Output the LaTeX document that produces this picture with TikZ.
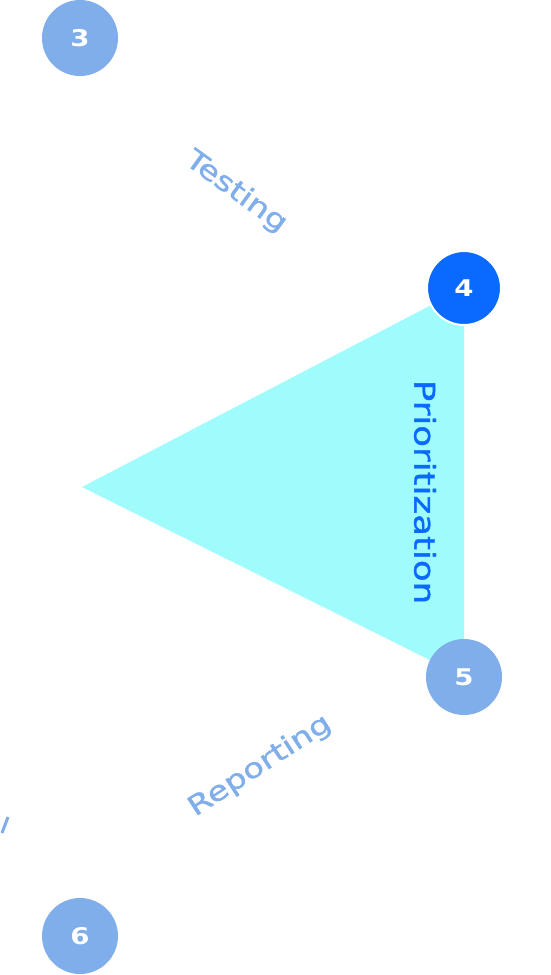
\documentclass[tikz,border=0pt]{standalone}
\usepackage{fontspec}
\setmainfont{DejaVu Sans}
\newfontfamily\widefont[FakeStretch=1.25,FakeBold=1.3]{DejaVu Sans}
\newfontfamily\digitfont[FakeStretch=1.2]{DejaVu Sans Bold}
\definecolor{lightblue}{RGB}{127,174,234}
\definecolor{deepblue}{RGB}{10,105,255}
\definecolor{cyanfill}{RGB}{160,251,252}
\begin{document}
\begin{tikzpicture}[x=1pt,y=1pt,
  stepcircle/.style={circle,minimum size=76pt,inner sep=0pt,fill=lightblue,text=white,font=\digitfont\fontsize{23}{23}\selectfont},
  activecircle/.style={circle,minimum size=74pt,inner sep=0pt,fill=deepblue,draw=white,line width=2pt,text=white,font=\digitfont\fontsize{23}{23}\selectfont},
  edgelabel/.style={text=lightblue,font=\widefont\fontsize{27}{27}\selectfont,inner sep=0pt},
  activelabel/.style={text=deepblue,font=\widefont\fontsize{28.5}{28.5}\selectfont,inner sep=0pt}]
\useasboundingbox (0,0) rectangle (551,-975);
\coordinate (apex) at (82,-487);
\coordinate (c4) at (464,-288);
\coordinate (c5) at (464,-677);
\fill[cyanfill] (apex) -- (c4) -- (c5) -- cycle;
\node[stepcircle] (n3) at (80,-38) {3};
\node[activecircle] (n4) at (c4) {4};
\node[stepcircle] (n5) at (c5) {5};
\node[stepcircle] (n6) at (80,-936) {6};
\node[edgelabel,rotate=-36] (ltest) at (236,-192) {Testing};
\node[edgelabel,rotate=33] (lrep) at (260,-766) {Reporting};
\node[activelabel,rotate=-90] (lprio) at (425,-492) {Prioritization};
\draw[lightblue,line width=3pt] (8,-817) -- (2,-833);
\end{tikzpicture}
\end{document}
